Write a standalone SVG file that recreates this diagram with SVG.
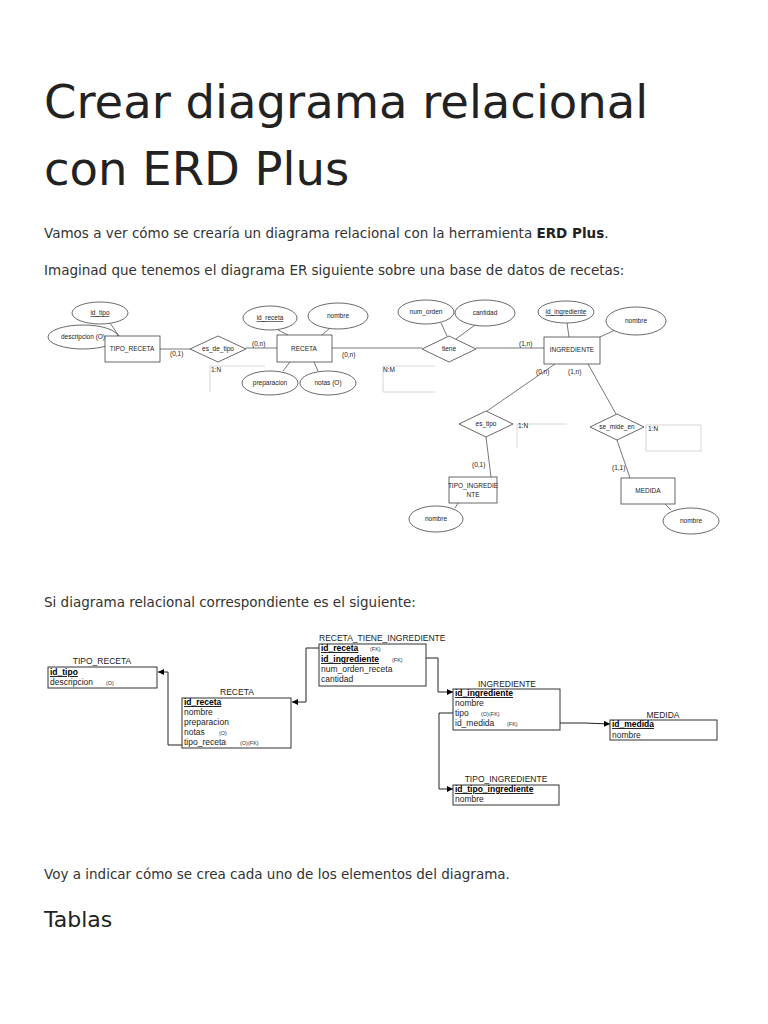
<svg xmlns="http://www.w3.org/2000/svg" width="768" height="1024" viewBox="0 0 768 1024">
<defs>
<marker id="ar" viewBox="0 0 6 6" refX="6" refY="3" markerWidth="6" markerHeight="6" markerUnits="userSpaceOnUse" orient="auto"><path d="M0,0L6,3L0,6z" fill="#000"/></marker>
<style>
.pg{font-family:"DejaVu Sans",sans-serif;fill:#333}
.hd{font-family:"DejaVu Sans",sans-serif;fill:#222}
.er{font-family:"Liberation Sans",Arial,sans-serif;font-size:6.5px;fill:#222;text-anchor:middle}
.erl{font-family:"Liberation Sans",Arial,sans-serif;font-size:6.5px;fill:#222}
.sh{fill:#fff;stroke:#444;stroke-width:0.8}
.ln{stroke:#555;stroke-width:0.8;fill:none}
.gl{stroke:#ccc;stroke-width:0.8;fill:none}
.tb{fill:#fff;stroke:#333;stroke-width:1}
.tt{font-family:"Liberation Sans",Arial,sans-serif;font-size:8.5px;fill:#222}
.tk{font-family:"Liberation Sans",Arial,sans-serif;font-size:8.5px;fill:#000;font-weight:bold;text-decoration:underline}
.ts{font-family:"Liberation Sans",Arial,sans-serif;font-size:5.5px;fill:#333}
.tc{stroke:#222;stroke-width:1;fill:none}
</style>
</defs>
<rect width="768" height="1024" fill="#fff"/>
<text class="hd" x="44" y="118" font-size="46.5">Crear diagrama relacional</text>
<text class="hd" x="44" y="185" font-size="46.5">con ERD Plus</text>
<text class="pg" x="44" y="238" font-size="13.5">Vamos a ver cómo se crearía un diagrama relacional con la herramienta <tspan font-weight="bold" style="fill:#222">ERD Plus</tspan>.</text>
<text class="pg" x="44" y="275" font-size="13.5">Imaginad que tenemos el diagrama ER siguiente sobre una base de datos de recetas:</text>

<g id="er-connectors">
<line class="ln" x1="110" y1="323" x2="119" y2="336"/>
<line class="ln" x1="105" y1="344" x2="117" y2="345"/>
<line class="ln" x1="160" y1="349" x2="190" y2="349"/>
<line class="ln" x1="246" y1="348" x2="277" y2="348"/>
<line class="ln" x1="278" y1="330" x2="288" y2="335"/>
<line class="ln" x1="330" y1="328" x2="322" y2="335"/>
<line class="ln" x1="283" y1="371" x2="290" y2="362"/>
<line class="ln" x1="318" y1="371" x2="314" y2="362"/>
<line class="ln" x1="332" y1="348" x2="422" y2="348"/>
<line class="ln" x1="476" y1="348" x2="544" y2="348"/>
<line class="ln" x1="441" y1="323" x2="447" y2="336"/>
<line class="ln" x1="475" y1="325" x2="456" y2="339"/>
<line class="ln" x1="567" y1="323" x2="569" y2="337"/>
<line class="ln" x1="615" y1="330" x2="600" y2="337"/>
<line class="ln" x1="555" y1="364" x2="487" y2="411"/>
<line class="ln" x1="588" y1="364" x2="616" y2="414"/>
<line class="ln" x1="486" y1="437" x2="491" y2="477"/>
<line class="ln" x1="617" y1="440" x2="630" y2="478"/>
<line class="ln" x1="455" y1="508" x2="458" y2="503"/>
<line class="ln" x1="671" y1="510" x2="665" y2="504"/>
<polyline class="gl" points="265,366 210,366 210,392"/>
<polyline class="gl" points="435,366 383,366 383,392 435,392"/>
<polyline class="gl" points="567,424 517,424 517,448"/>
<rect class="gl" x="646" y="425" width="55" height="26"/>
</g>

<g id="er-id_tipo"><ellipse class="sh" cx="100" cy="313" rx="28" ry="11"/><text class="er" x="100" y="315" text-decoration="underline">id_tipo</text></g>
<g id="er-descripcion"><ellipse class="sh" cx="83" cy="337" rx="35" ry="12"/><text class="er" x="83" y="339" font-size="6">descripcion (O)</text></g>
<g id="er-tipo_receta"><rect class="sh" x="105" y="336" width="55" height="26"/><text class="er" x="132" y="351">TIPO_RECETA</text></g>
<g id="er-es_de_tipo"><polygon class="sh" points="190,349 218,336 246,349 218,362"/><text class="er" x="218" y="351">es_de_tipo</text></g>
<g id="er-receta"><rect class="sh" x="277" y="335" width="55" height="27"/><text class="er" x="304" y="351">RECETA</text></g>
<g id="er-id_receta"><ellipse class="sh" cx="270" cy="318" rx="27" ry="12"/><text class="er" x="270" y="320" text-decoration="underline">id_receta</text></g>
<g id="er-nombre1"><ellipse class="sh" cx="338" cy="316" rx="30" ry="13"/><text class="er" x="338" y="318">nombre</text></g>
<g id="er-preparacion"><ellipse class="sh" cx="270" cy="383" rx="28" ry="12"/><text class="er" x="270" y="385">preparacion</text></g>
<g id="er-notas"><ellipse class="sh" cx="328" cy="383" rx="28" ry="12"/><text class="er" x="328" y="385">notas (O)</text></g>
<g id="er-tiene"><polygon class="sh" points="422,349 449,336 476,349 449,362"/><text class="er" x="449" y="351">tiene</text></g>
<g id="er-num_orden"><ellipse class="sh" cx="426" cy="312" rx="28" ry="12"/><text class="er" x="426" y="314">num_orden</text></g>
<g id="er-cantidad"><ellipse class="sh" cx="485" cy="313" rx="30" ry="13"/><text class="er" x="485" y="315">cantidad</text></g>
<g id="er-ingrediente"><rect class="sh" x="544" y="337" width="56" height="27"/><text class="er" x="572" y="352">INGREDIENTE</text></g>
<g id="er-id_ingrediente"><ellipse class="sh" cx="566" cy="312" rx="28" ry="11"/><text class="er" x="566" y="314" text-decoration="underline">id_ingrediente</text></g>
<g id="er-nombre2"><ellipse class="sh" cx="636" cy="321" rx="30" ry="14"/><text class="er" x="636" y="323">nombre</text></g>
<g id="er-es_tipo"><polygon class="sh" points="459,424 486,411 513,424 486,437"/><text class="er" x="486" y="426">es_tipo</text></g>
<g id="er-se_mide_en"><polygon class="sh" points="590,427 617,414 644,427 617,440"/><text class="er" x="617" y="429">se_mide_en</text></g>
<g id="er-tipo_ingrediente"><rect class="sh" x="449" y="477" width="48" height="26"/><text class="er" x="473" y="488">TIPO_INGREDIE</text><text class="er" x="473" y="497">NTE</text></g>
<g id="er-nombre3"><ellipse class="sh" cx="436" cy="519" rx="27" ry="13"/><text class="er" x="436" y="521">nombre</text></g>
<g id="er-medida"><rect class="sh" x="621" y="478" width="54" height="26"/><text class="er" x="648" y="493">MEDIDA</text></g>
<g id="er-nombre4"><ellipse class="sh" cx="691" cy="521" rx="28" ry="13"/><text class="er" x="691" y="523">nombre</text></g>

<g id="er-labels">
<text class="erl" x="170" y="356">(0,1)</text>
<text class="erl" x="252" y="346">(0,n)</text>
<text class="erl" x="211" y="372">1:N</text>
<text class="erl" x="342" y="357">(0,n)</text>
<text class="erl" x="383" y="372">N:M</text>
<text class="erl" x="519" y="346">(1,n)</text>
<text class="erl" x="536" y="374">(0,n)</text>
<text class="erl" x="568" y="374">(1,n)</text>
<text class="erl" x="518" y="428">1:N</text>
<text class="erl" x="648" y="431">1:N</text>
<text class="erl" x="472" y="467">(0,1)</text>
<text class="erl" x="612" y="470">(1,1)</text>
</g>

<text class="pg" x="44" y="607" font-size="13.5">Si diagrama relacional correspondiente es el siguiente:</text>

<g id="rel-connectors">
<polyline class="tc" points="182,745 168,745 168,672 158,672" marker-end="url(#ar)"/>
<polyline class="tc" points="319,648 306,648 306,702 292,702" marker-end="url(#ar)"/>
<polyline class="tc" points="426,658 438,658 438,692 453,692" marker-end="url(#ar)"/>
<polyline class="tc" points="560,723 585,723 610,724" marker-end="url(#ar)"/>
<polyline class="tc" points="453,713 439,713 439,789 453,789" marker-end="url(#ar)"/>
</g>

<g id="t-tipo_receta">
<text class="tt" x="102" y="664" text-anchor="middle">TIPO_RECETA</text>
<rect class="tb" x="48" y="667" width="109" height="21"/>
<text class="tk" x="50" y="675">id_tipo</text>
<text class="tt" x="50" y="685">descripcion</text><text class="ts" x="106" y="685">(O)</text>
</g>
<g id="t-receta">
<text class="tt" x="237" y="695" text-anchor="middle">RECETA</text>
<rect class="tb" x="182" y="698" width="109" height="50"/>
<text class="tk" x="184" y="705">id_receta</text>
<text class="tt" x="184" y="715">nombre</text>
<text class="tt" x="184" y="725">preparacion</text>
<text class="tt" x="184" y="735">notas</text><text class="ts" x="219" y="735">(O)</text>
<text class="tt" x="184" y="745">tipo_receta</text><text class="ts" x="240" y="745">(O)(FK)</text>
</g>
<g id="t-receta_tiene_ingrediente">
<text class="tt" x="319" y="641">RECETA_TIENE_INGREDIENTE</text>
<rect class="tb" x="319" y="644" width="107" height="42"/>
<text class="tk" x="321" y="651">id_receta</text><text class="ts" x="370" y="651">(FK)</text>
<text class="tk" x="321" y="662">id_ingrediente</text><text class="ts" x="392" y="662">(FK)</text>
<text class="tt" x="321" y="672">num_orden_receta</text>
<text class="tt" x="321" y="682">cantidad</text>
</g>
<g id="t-ingrediente">
<text class="tt" x="507" y="687" text-anchor="middle">INGREDIENTE</text>
<rect class="tb" x="453" y="689" width="107" height="41"/>
<text class="tk" x="455" y="696">id_ingrediente</text>
<text class="tt" x="455" y="706">nombre</text>
<text class="tt" x="455" y="716">tipo</text><text class="ts" x="481" y="716">(O)(FK)</text>
<text class="tt" x="455" y="726">id_medida</text><text class="ts" x="507" y="726">(FK)</text>
</g>
<g id="t-medida">
<text class="tt" x="663" y="718" text-anchor="middle">MEDIDA</text>
<rect class="tb" x="610" y="720" width="107" height="20"/>
<text class="tk" x="612" y="727">id_medida</text>
<text class="tt" x="612" y="738">nombre</text>
</g>
<g id="t-tipo_ingrediente">
<text class="tt" x="506" y="782" text-anchor="middle">TIPO_INGREDIENTE</text>
<rect class="tb" x="453" y="785" width="106" height="20"/>
<text class="tk" x="455" y="792">id_tipo_ingrediente</text>
<text class="tt" x="455" y="802">nombre</text>
</g>

<text class="pg" x="44" y="879" font-size="13.5">Voy a indicar cómo se crea cada uno de los elementos del diagrama.</text>
<text class="hd" x="44" y="927" font-size="22">Tablas</text>
</svg>
